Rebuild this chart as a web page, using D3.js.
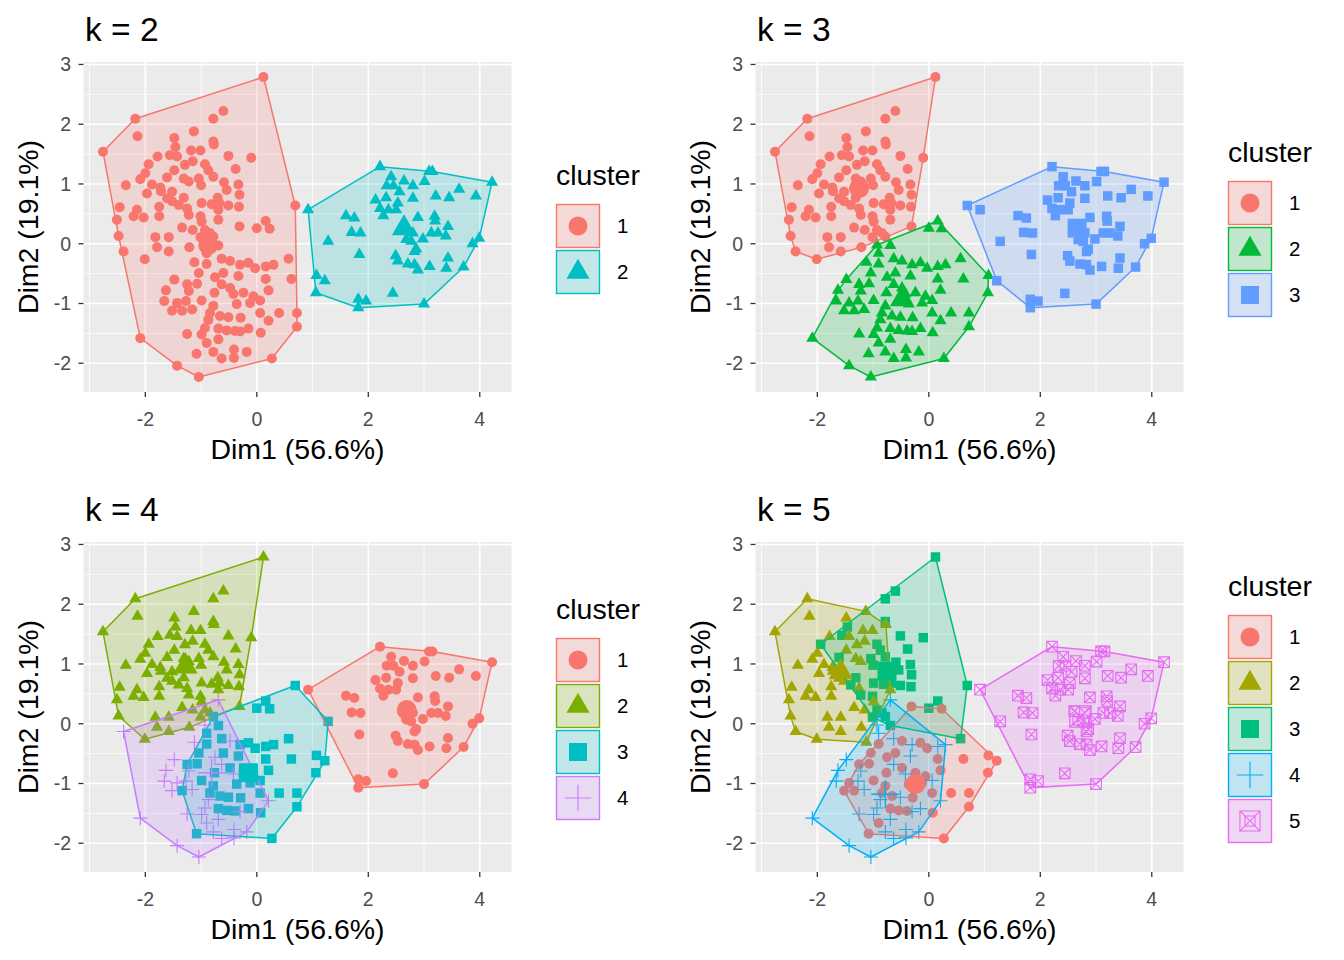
<!DOCTYPE html>
<html>
<head>
<meta charset="utf-8">
<script src="https://cdn.jsdelivr.net/npm/d3@7"></script>
<style>
body { margin: 0; background: #fff; }
text { font-family: "Liberation Sans", Arial, sans-serif; }
</style>
</head>
<body>
<script>
// values
var kValues = [2, 3, 4, 5];
var xTicks = [-2, 0, 2, 4];
var yTicks = [-2, -1, 0, 1, 2, 3];
var xMinor = [-3, -1, 1, 3];
var yMinor = [-1.5, -0.5, 0.5, 1.5, 2.5];
var xLabel = "Dim1 (56.6%)";
var yLabel = "Dim2 (19.1%)";
var legendTitle = "cluster";

var palettes = {
  2: ["#F8766D", "#00BFC4"],
  3: ["#F8766D", "#00BA38", "#619CFF"],
  4: ["#F8766D", "#7CAE00", "#00BFC4", "#C77CFF"],
  5: ["#F8766D", "#A3A500", "#00BF7D", "#00B0F6", "#E76BF3"]
};
var shapes = ["circle", "triangle", "square", "cross", "boxx"];

// [Dim1, Dim2, cluster for k=2,3,4,5]
var obs = [
  [0.12,2.79,"1123"],[-2.18,2.09,"1122"],[-2.76,1.54,"1122"],[0.69,0.64,"1333"],
  [0.72,-1.16,"1231"],[0.72,-1.39,"1231"],[0.27,-1.92,"1231"],[-1.04,-2.23,"1244"],
  [-1.43,-2.04,"1244"],[-2.09,-1.58,"1244"],[-2.39,-0.13,"1142"],[-2.48,0.13,"1122"],
  [-2.51,0.40,"1122"],[-2.46,0.61,"1122"],[-0.60,2.22,"1123"],[-0.78,2.09,"1123"],
  [-1.13,1.88,"1122"],[-2.14,1.80,"1122"],[-1.48,1.77,"1122"],[-0.78,1.71,"1123"],
  [-1.46,1.62,"1123"],[-0.77,1.66,"1122"],[-1.18,1.56,"1122"],[-1.01,1.56,"1122"],
  [-1.56,1.48,"1123"],[-1.78,1.46,"1122"],[-1.43,1.46,"1122"],[-0.51,1.47,"1123"],
  [-0.10,1.44,"1123"],[-1.15,1.38,"1122"],[-1.94,1.33,"1123"],[-1.29,1.32,"1122"],
  [-0.93,1.33,"1123"],[-1.48,1.23,"1122"],[-0.87,1.23,"1123"],[-0.38,1.25,"1123"],
  [-2.00,1.18,"1122"],[-2.09,1.08,"1122"],[-1.61,1.11,"1123"],[-1.31,1.09,"1122"],
  [-1.22,1.04,"1122"],[-1.04,1.09,"1123"],[-0.78,1.12,"1123"],[-2.35,0.98,"1122"],
  [-1.88,0.99,"1122"],[-1.73,0.94,"1122"],[-1.00,0.98,"1123"],[-0.59,1.03,"1123"],
  [-0.33,0.99,"1123"],[-1.97,0.84,"1122"],[-1.72,0.88,"1122"],[-1.52,0.87,"1122"],
  [-0.54,0.90,"1123"],[-0.31,0.82,"1123"],[-1.61,0.76,"1122"],[-1.31,0.77,"1123"],
  [-0.70,0.77,"1123"],[-1.52,0.71,"1122"],[-1.40,0.65,"1123"],[-0.99,0.68,"1123"],
  [-0.81,0.66,"1123"],[-0.67,0.68,"1123"],[-0.51,0.64,"1123"],[-0.32,0.62,"1123"],
  [-1.75,0.62,"1122"],[-2.15,0.57,"1122"],[-1.25,0.59,"1122"],[-0.69,0.57,"1122"],
  [-2.21,0.46,"1122"],[-2.03,0.44,"1122"],[-1.75,0.46,"1122"],[-1.22,0.48,"1123"],
  [-1.01,0.46,"1123"],[-0.69,0.40,"1144"],[0.16,0.38,"1233"],[0.23,0.25,"1231"],
  [-0.31,0.29,"1121"],[0.00,0.26,"1233"],[-1.34,0.27,"1122"],[-1.15,0.23,"1122"],
  [-0.99,0.37,"1122"],[-0.93,0.23,"1123"],[-0.84,0.18,"1123"],[-1.82,0.11,"1122"],
  [-1.58,0.11,"1122"],[-1.01,0.11,"1123"],[-0.78,0.12,"1133"],[-1.79,-0.06,"1122"],
  [-1.58,-0.13,"1122"],[-1.21,-0.06,"1122"],[-0.93,-0.02,"1244"],[-0.69,-0.03,"1233"],
  [-0.90,-0.16,"1234"],[-2.01,-0.26,"1122"],[-1.12,-0.31,"1242"],[-0.90,-0.34,"1231"],
  [-0.63,-0.25,"1234"],[-0.48,-0.29,"1241"],[-0.30,-0.35,"1234"],[-0.15,-0.32,"1231"],
  [-0.03,-0.41,"1231"],[0.16,-0.38,"1234"],[0.30,-0.35,"1234"],[0.57,-0.25,"1233"],
  [0.62,-0.59,"1231"],[-1.04,-0.49,"1231"],[-1.48,-0.60,"1244"],[-0.75,-0.56,"1241"],
  [-0.60,-0.49,"1231"],[-0.33,-0.54,"1234"],[0.16,-0.59,"1231"],[-1.25,-0.68,"1231"],
  [-1.07,-0.67,"1231"],[-0.63,-0.68,"1244"],[-0.48,-0.74,"1231"],[0.21,-0.78,"1231"],
  [-1.63,-0.78,"1244"],[-1.22,-0.79,"1244"],[-0.76,-0.82,"1231"],[-0.24,-0.82,"1231"],
  [-0.42,-0.84,"1244"],[-0.06,-0.88,"1231"],[-1.66,-0.96,"1244"],[-1.43,-0.99,"1241"],
  [-1.27,-0.96,"1244"],[-0.99,-0.95,"1231"],[-0.78,-1.04,"1231"],[-0.36,-1.01,"1231"],
  [-0.12,-0.99,"1231"],[0.06,-0.95,"1234"],[-1.52,-1.12,"1241"],[-1.34,-1.12,"1231"],
  [-1.16,-1.10,"1244"],[-0.84,-1.16,"1231"],[-0.66,-1.21,"1231"],[-0.51,-1.23,"1234"],
  [-0.29,-1.24,"1231"],[0.06,-1.16,"1231"],[0.40,-1.16,"1231"],[-0.87,-1.27,"1244"],
  [0.21,-1.29,"1244"],[-0.93,-1.41,"1244"],[-0.69,-1.42,"1231"],[-0.54,-1.45,"1231"],
  [-0.39,-1.46,"1231"],[-0.15,-1.42,"1234"],[-1.25,-1.51,"1244"],[-0.99,-1.52,"1244"],
  [-0.30,-1.47,"1244"],[0.07,-1.49,"1231"],[-0.69,-1.60,"1244"],[-0.90,-1.66,"1241"],
  [-1.08,-1.84,"1231"],[-0.78,-1.81,"1244"],[-0.41,-1.77,"1244"],[-0.18,-1.81,"1244"],
  [-0.63,-1.92,"1244"],[-0.41,-1.91,"1244"],
  [2.21,1.29,"2315"],[3.09,1.21,"2315"],[3.15,1.21,"2315"],[4.22,1.03,"2315"],
  [0.92,0.57,"2315"],[2.41,1.12,"2315"],[2.64,1.05,"2315"],[2.80,0.97,"2315"],
  [3.01,1.04,"2315"],[2.33,0.97,"2315"],[2.45,0.97,"2315"],[2.56,0.87,"2315"],
  [3.63,0.91,"2315"],[3.21,0.80,"2315"],[3.45,0.77,"2315"],[3.93,0.80,"2315"],
  [2.13,0.73,"2315"],[2.32,0.77,"2315"],[2.80,0.76,"2315"],[2.53,0.68,"2315"],
  [2.21,0.59,"2315"],[2.36,0.57,"2315"],[2.50,0.57,"2315"],[2.27,0.47,"2315"],
  [1.60,0.47,"2315"],[1.75,0.43,"2315"],[2.89,0.44,"2315"],[3.19,0.46,"2315"],
  [3.20,0.38,"2315"],[3.43,0.29,"2315"],[1.70,0.19,"2315"],[1.86,0.18,"2315"],
  [2.61,0.21,"2315"],[2.80,0.18,"2315"],[3.13,0.18,"2315"],[3.25,0.18,"2315"],
  [3.39,0.13,"2315"],[2.98,0.08,"2315"],[2.68,0.07,"2315"],[2.77,0.04,"2315"],
  [3.99,0.09,"2315"],[3.87,0.00,"2315"],[1.28,0.04,"2335"],[2.86,-0.09,"2315"],
  [2.83,-0.13,"2315"],[1.84,-0.18,"2315"],[2.49,-0.20,"2315"],[3.43,-0.24,"2315"],
  [2.53,-0.29,"2315"],[2.71,-0.34,"2315"],[2.83,-0.35,"2315"],[2.89,-0.44,"2315"],
  [3.10,-0.38,"2315"],[3.40,-0.41,"2315"],[3.71,-0.39,"2315"],[1.07,-0.53,"2231"],
  [1.22,-0.62,"2331"],[1.06,-0.82,"2231"],[2.44,-0.83,"2315"],[1.82,-0.93,"2315"],
  [1.96,-0.96,"2315"],[1.82,-1.07,"2315"],[3.00,-1.01,"2315"]
];

// cluster centres, in cluster order
var centers = {
  2: [[-0.87, -0.02], [2.64, 0.26]],
  3: [[-1.25, 0.93], [-0.48, -0.93], [2.66, 0.26]],
  4: [[2.69, 0.23], [-1.28, 0.96], [-0.15, -0.82], [-0.81, -0.82]],
  5: [[-0.24, -1.01], [-1.58, 0.86], [-0.75, 0.88], [-0.78, -1.18], [2.72, 0.12]]
};

var offsets = [[0, 0], [672, 0], [0, 480], [672, 480]];
var W = 1344, H = 960;
var pLeft = 83.5, pRight = 511.5, pTop = 62, pBottom = 392;

var svg = d3.select("body").append("svg")
  .attr("width", W).attr("height", H);

var xe = d3.extent(obs, function(d) { return d[0]; });
var ye = d3.extent(obs, function(d) { return d[1]; });
var xp = (xe[1] - xe[0]) * 0.05, yp = (ye[1] - ye[0]) * 0.05;
var x = d3.scaleLinear().domain([xe[0] - xp, xe[1] + xp]).range([pLeft, pRight]);
var y = d3.scaleLinear().domain([ye[0] - yp, ye[1] + yp]).range([pBottom, pTop]);

function symbolPath(shape, s) {
  if (shape == "circle") return d3.symbol(d3.symbolCircle, Math.PI * 5 * 5 * s * s)();
  if (shape == "triangle") return d3.symbol(d3.symbolTriangle, 64 * s * s)();
  if (shape == "square") return d3.symbol(d3.symbolSquare, 90 * s * s)();
  if (shape == "cross") {
    var a = 7 * s;
    return "M" + (-a) + ",0H" + a + "M0," + (-a) + "V" + a;
  }
  var r = 5.3 * s;
  return "M" + (-r) + "," + (-r) + "H" + r + "V" + r + "H" + (-r) + "Z" +
    "M" + (-r) + "," + (-r) + "L" + r + "," + r + "M" + r + "," + (-r) + "L" + (-r) + "," + r;
}
function isFilled(shape) { return shape == "circle" || shape == "triangle" || shape == "square"; }

function drawSymbol(sel, shape, color, s, sw) {
  sel.attr("d", symbolPath(shape, s))
    .attr("fill", isFilled(shape) ? color : "none")
    .attr("stroke", isFilled(shape) ? "none" : color)
    .attr("stroke-width", isFilled(shape) ? 0 : sw);
}

kValues.forEach(function(k, pi) {
  var g = svg.append("g").attr("transform", "translate(" + offsets[pi][0] + "," + offsets[pi][1] + ")");
  var pal = palettes[k];
  var col = pi; // index into the label string

  // panel
  g.append("rect").attr("x", pLeft).attr("y", pTop)
    .attr("width", pRight - pLeft).attr("height", pBottom - pTop).attr("fill", "#EBEBEB");

  g.selectAll(".xminor").data(xMinor).enter().append("line")
    .attr("x1", function(d) { return x(d); }).attr("x2", function(d) { return x(d); })
    .attr("y1", pTop).attr("y2", pBottom).attr("stroke", "#fff").attr("stroke-width", 0.8);
  g.selectAll(".yminor").data(yMinor).enter().append("line")
    .attr("y1", function(d) { return y(d); }).attr("y2", function(d) { return y(d); })
    .attr("x1", pLeft).attr("x2", pRight).attr("stroke", "#fff").attr("stroke-width", 0.8);
  g.selectAll(".xmajor").data(xTicks).enter().append("line")
    .attr("x1", function(d) { return x(d); }).attr("x2", function(d) { return x(d); })
    .attr("y1", pTop).attr("y2", pBottom).attr("stroke", "#fff").attr("stroke-width", 1.6);
  g.selectAll(".ymajor").data(yTicks).enter().append("line")
    .attr("y1", function(d) { return y(d); }).attr("y2", function(d) { return y(d); })
    .attr("x1", pLeft).attr("x2", pRight).attr("stroke", "#fff").attr("stroke-width", 1.6);

  // points
  g.selectAll(".pt").data(obs).enter().append("path")
    .attr("transform", function(d) { return "translate(" + x(d[0]) + "," + y(d[1]) + ")"; })
    .each(function(d) {
      var c = +d[2][col] - 1;
      drawSymbol(d3.select(this), shapes[c], pal[c], 1, 1.1);
    });

  // hulls
  pal.forEach(function(color, c) {
    var pts = obs.filter(function(d) { return +d[2][col] - 1 == c; })
      .map(function(d) { return [x(d[0]), y(d[1])]; });
    var hull = d3.polygonHull(pts);
    if (!hull) return;
    g.append("path").attr("d", "M" + hull.join("L") + "Z")
      .attr("fill", color).attr("fill-opacity", 0.2)
      .attr("stroke", color).attr("stroke-width", 1.5).attr("stroke-linejoin", "round");
  });

  // centres
  centers[k].forEach(function(d, c) {
    g.append("path").attr("transform", "translate(" + x(d[0]) + "," + y(d[1]) + ")")
      .call(drawSymbol, shapes[c], pal[c], 2, 1.3);
  });

  // axes
  g.selectAll(".xt").data(xTicks).enter().append("line")
    .attr("x1", function(d) { return x(d); }).attr("x2", function(d) { return x(d); })
    .attr("y1", pBottom).attr("y2", pBottom + 5).attr("stroke", "#333").attr("stroke-width", 1.3);
  g.selectAll(".xl").data(xTicks).enter().append("text")
    .attr("x", function(d) { return x(d); }).attr("y", 426)
    .attr("text-anchor", "middle").attr("font-size", "19.5px").attr("fill", "#4D4D4D")
    .text(function(d) { return d; });
  g.selectAll(".yt").data(yTicks).enter().append("line")
    .attr("y1", function(d) { return y(d); }).attr("y2", function(d) { return y(d); })
    .attr("x1", pLeft - 5).attr("x2", pLeft).attr("stroke", "#333").attr("stroke-width", 1.3);
  g.selectAll(".yl").data(yTicks).enter().append("text")
    .attr("x", 71).attr("y", function(d) { return y(d) + 7; })
    .attr("text-anchor", "end").attr("font-size", "19.5px").attr("fill", "#4D4D4D")
    .text(function(d) { return d; });

  g.append("text").attr("x", (pLeft + pRight) / 2).attr("y", 459)
    .attr("text-anchor", "middle").attr("font-size", "28.5px").text(xLabel);
  g.append("text").attr("transform", "translate(38," + (pTop + pBottom) / 2 + ") rotate(-90)")
    .attr("text-anchor", "middle").attr("font-size", "28.5px").text(yLabel);

  g.append("text").attr("x", 85).attr("y", 41).attr("font-size", "33.5px").text("k = " + k);

  // legend
  var start = 250 - 23 * pal.length;
  g.append("text").attr("x", 556).attr("y", start - 19)
    .attr("font-size", "28.5px").text(legendTitle);
  pal.forEach(function(color, c) {
    var ky = start + c * 46;
    g.append("rect").attr("x", 556.5).attr("y", ky + 0.5).attr("width", 43).attr("height", 43)
      .attr("fill", "#F2F2F2");
    g.append("rect").attr("x", 556.5).attr("y", ky + 0.5).attr("width", 43).attr("height", 43)
      .attr("fill", color).attr("fill-opacity", 0.2)
      .attr("stroke", color).attr("stroke-width", 1.4);
    g.append("path").attr("transform", "translate(578," + (ky + 22) + ")")
      .call(drawSymbol, shapes[c], color, 1.9, 1.1);
    if (shapes[c] == "boxx") {
      g.append("rect").attr("x", 573).attr("y", ky + 17).attr("width", 10).attr("height", 10)
        .attr("fill", "none").attr("stroke", color).attr("stroke-width", 1);
    }
    g.append("text").attr("x", 617).attr("y", ky + 29)
      .attr("font-size", "20.5px").text(c + 1);
  });
});
</script>
</body>
</html>
